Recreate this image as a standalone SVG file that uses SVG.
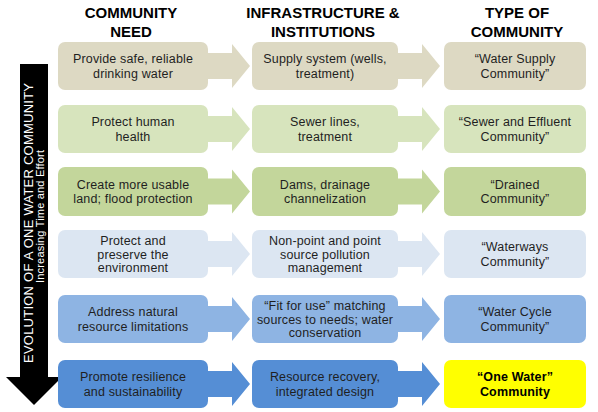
<svg xmlns="http://www.w3.org/2000/svg" width="598" height="412" viewBox="0 0 598 412">
<style>
text{font-family:"Liberation Sans",Arial,sans-serif;fill:#1f1f1f}
.h{font-size:15px;font-weight:bold;text-anchor:middle;fill:#000}
.t{font-size:12.5px;text-anchor:middle;letter-spacing:0.15px}
.b{font-weight:bold;fill:#000}
.r1{fill:#DDD9C3}.r2{fill:#D7E4BD}.r3{fill:#C3D69B}.r4{fill:#DCE6F2}.r5{fill:#8EB4E3}.r6{fill:#558ED5}.y{fill:#FFFF00}
.v{fill:#fff}
</style>
<defs>
<path id="arr" d="M0,-13 H32 V-22 L50,0 L32,22 V13 H0 Z"/>
</defs>
<rect width="598" height="412" fill="#fff"/>
<g id="headers">
<text class="h" x="131" y="18">COMMUNITY</text>
<text class="h" x="131" y="37">NEED</text>
<text class="h" x="323" y="18">INFRASTRUCTURE &amp;</text>
<text class="h" x="323" y="37">INSTITUTIONS</text>
<text class="h" x="517" y="18">TYPE OF</text>
<text class="h" x="517" y="37">COMMUNITY</text>
</g>
<g id="timeline">
<path d="M20,64 H48 V377 H62 L34,405 L6,377 H20 Z" fill="#000"/>
<text class="v" font-size="13" x="0" y="0" textLength="280" lengthAdjust="spacing" transform="translate(33,363) rotate(-90)">EVOLUTION OF A ONE WATER COMMUNITY</text>
<text class="v" font-size="11" x="0" y="0" textLength="133" lengthAdjust="spacing" transform="translate(44,283) rotate(-90)">Increasing Time and Effort</text>
</g>
<g id="connectors">
<use href="#arr" class="r1" x="200" y="66"/><use href="#arr" class="r1" x="390" y="66"/>
<use href="#arr" class="r2" x="200" y="129"/><use href="#arr" class="r2" x="390" y="129"/>
<use href="#arr" class="r3" x="200" y="191.5"/><use href="#arr" class="r3" x="390" y="191.5"/>
<use href="#arr" class="r4" x="200" y="254"/><use href="#arr" class="r4" x="390" y="254"/>
<use href="#arr" class="r5" x="200" y="319"/><use href="#arr" class="r5" x="390" y="319"/>
<use href="#arr" class="r6" x="200" y="384"/><use href="#arr" class="r6" x="390" y="384"/>
</g>
<g id="row1">
<g id="need1"><rect class="r1" x="58" y="42" width="150" height="48" rx="7"/><text class="t" x="133" y="63.3">Provide safe, reliable</text><text class="t" x="133" y="77.8">drinking water</text></g>
<g id="infra1"><rect class="r1" x="252" y="42" width="146" height="48" rx="7"/><text class="t" x="325" y="63.3">Supply system (wells,</text><text class="t" x="325" y="77.8">treatment)</text></g>
<g id="type1"><rect class="r1" x="444" y="42" width="142" height="48" rx="7"/><text class="t" x="515" y="63.3">“Water Supply</text><text class="t" x="515" y="77.8">Community”</text></g>
</g>
<g id="row2">
<g id="need2"><rect class="r2" x="58" y="105" width="150" height="48" rx="7"/><text class="t" x="133" y="126.3">Protect human</text><text class="t" x="133" y="140.8">health</text></g>
<g id="infra2"><rect class="r2" x="252" y="105" width="146" height="48" rx="7"/><text class="t" x="325" y="126.3">Sewer lines,</text><text class="t" x="325" y="140.8">treatment</text></g>
<g id="type2"><rect class="r2" x="444" y="105" width="142" height="48" rx="7"/><text class="t" x="515" y="126.3">“Sewer and Effluent</text><text class="t" x="515" y="140.8">Community”</text></g>
</g>
<g id="row3">
<g id="need3"><rect class="r3" x="58" y="167" width="150" height="49" rx="7"/><text class="t" x="133" y="188.8">Create more usable</text><text class="t" x="133" y="203.3">land; flood protection</text></g>
<g id="infra3"><rect class="r3" x="252" y="167" width="146" height="49" rx="7"/><text class="t" x="325" y="188.8">Dams, drainage</text><text class="t" x="325" y="203.3">channelization</text></g>
<g id="type3"><rect class="r3" x="444" y="167" width="142" height="49" rx="7"/><text class="t" x="515" y="188.8">“Drained</text><text class="t" x="515" y="203.3">Community”</text></g>
</g>
<g id="row4">
<g id="need4"><rect class="r4" x="58" y="230" width="150" height="48" rx="7"/><text class="t" x="133" y="245">Protect and</text><text class="t" x="133" y="258.5">preserve the</text><text class="t" x="133" y="272">environment</text></g>
<g id="infra4"><rect class="r4" x="252" y="230" width="146" height="48" rx="7"/><text class="t" x="325" y="245">Non-point and point</text><text class="t" x="325" y="258.5">source pollution</text><text class="t" x="325" y="272">management</text></g>
<g id="type4"><rect class="r4" x="444" y="230" width="142" height="48" rx="7"/><text class="t" x="515" y="251.3">“Waterways</text><text class="t" x="515" y="265.8">Community”</text></g>
</g>
<g id="row5">
<g id="need5"><rect class="r5" x="58" y="295" width="150" height="48" rx="7"/><text class="t" x="133" y="316.3">Address natural</text><text class="t" x="133" y="330.8">resource limitations</text></g>
<g id="infra5"><rect class="r5" x="252" y="295" width="146" height="48" rx="7"/><text class="t" x="325" y="310">“Fit for use” matching</text><text class="t" x="325" y="323.5">sources to needs; water</text><text class="t" x="325" y="337">conservation</text></g>
<g id="type5"><rect class="r5" x="444" y="295" width="142" height="48" rx="7"/><text class="t" x="515" y="316.3">“Water Cycle</text><text class="t" x="515" y="330.8">Community”</text></g>
</g>
<g id="row6">
<g id="need6"><rect class="r6" x="58" y="360" width="150" height="48" rx="7"/><text class="t" x="133" y="381.3">Promote resilience</text><text class="t" x="133" y="395.8">and sustainability</text></g>
<g id="infra6"><rect class="r6" x="252" y="360" width="146" height="48" rx="7"/><text class="t" x="325" y="381.3">Resource recovery,</text><text class="t" x="325" y="395.8">integrated design</text></g>
<g id="type6"><rect class="y" x="444" y="360" width="142" height="48" rx="7"/><text class="t b" x="515" y="381.3">“One Water”</text><text class="t b" x="515" y="395.8">Community</text></g>
</g>
</svg>
